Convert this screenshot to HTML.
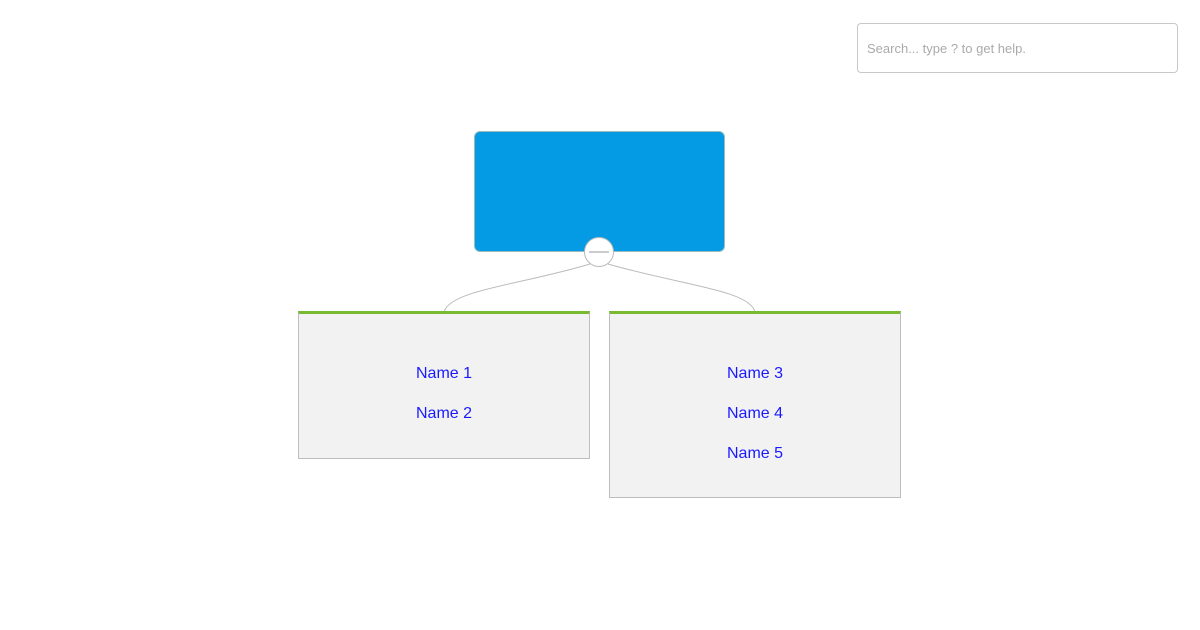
<!DOCTYPE html>
<html><head><style>
body{margin:0;width:1200px;height:630px;background:#fff;position:relative;overflow:hidden;font-family:"Liberation Sans",Arial,sans-serif}
.search{position:absolute;left:857px;top:23px;width:321px;height:50px;border:1px solid #c8c8c8;border-radius:4px;box-sizing:border-box;color:#aaa;font-size:13px;line-height:50px;padding-left:9px}
.blue{position:absolute;left:474px;top:131px;width:251px;height:121px;background:#059ae4;border:1px solid #9bb;border-radius:6px;box-sizing:border-box}
.box{position:absolute;background:#f2f2f2;border:1px solid #bdbdbd;border-top:3px solid #78bb31;box-sizing:border-box;text-align:center;color:#1a1aff;font-size:16px}
.box div{position:absolute;left:0;right:0}
</style></head><body>
<div class="search">Search... type ? to get help.</div>
<div class="blue"></div>
<svg width="1200" height="630" style="position:absolute;left:0;top:0">
<path d="M590 264 C520 285,450 290,444 312" fill="none" stroke="#bbb" stroke-width="1"/>
<path d="M608 264 C680 285,750 290,755 312" fill="none" stroke="#bbb" stroke-width="1"/>
<circle cx="599" cy="252" r="14.5" fill="#fff" stroke="#bbb" stroke-width="1"/>
<line x1="589" y1="252" x2="609" y2="252" stroke="#999" stroke-width="1"/>
</svg>
<div class="box" style="left:298px;top:311px;width:292px;height:148px">
<div style="top:51px">Name 1</div><div style="top:91px">Name 2</div></div>
<div class="box" style="left:609px;top:311px;width:292px;height:187px">
<div style="top:51px">Name 3</div><div style="top:91px">Name 4</div><div style="top:131px">Name 5</div></div>
</body></html>
